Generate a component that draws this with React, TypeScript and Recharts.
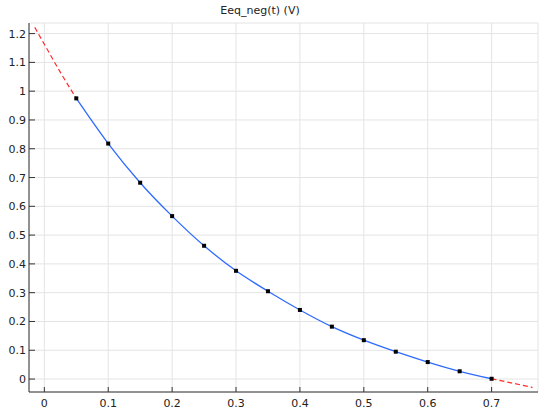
import React from 'react'
import { ComposedChart, Line, XAxis, YAxis, CartesianGrid } from 'recharts'

// fitted points (black squares + blue curve)
const times = [0.05, 0.1, 0.15, 0.2, 0.25, 0.3, 0.35, 0.4, 0.45, 0.5, 0.55, 0.6, 0.65, 0.7]
const values = [0.975, 0.818, 0.682, 0.566, 0.463, 0.376, 0.305, 0.24, 0.182, 0.135, 0.095, 0.059, 0.027, 0.001]

// red dashed extrapolation on both ends
const headTimes = [-0.015, 0, 0.025, 0.05]
const headValues = [1.222, 1.163, 1.066, 0.975]
const tailTimes = [0.7, 0.73, 0.764]
const tailValues = [0.001, -0.013, -0.029]

const xTicks = [0, 0.1, 0.2, 0.3, 0.4, 0.5, 0.6, 0.7]
const yTicks = [0, 0.1, 0.2, 0.3, 0.4, 0.5, 0.6, 0.7, 0.8, 0.9, 1, 1.1, 1.2]

const xDomain = [-0.024, 0.7726]
const yDomain = [-0.045, 1.2368]

const toRows = (ts: number[], vs: number[]) => ts.map((t, i) => ({ t, v: vs[i] }))

const fitData = toRows(times, values)
const headData = toRows(headTimes, headValues)
const tailData = toRows(tailTimes, tailValues)

const fmt = (v: number) => String(Number(v.toFixed(2)))

const FONT = '"DejaVu Sans", sans-serif'
const AXIS = '#333'

const BottomTick = (props: any) => {
  const { x, y, payload } = props
  return (
    <g>
      <line x1={x} x2={x} y1={y} y2={y - 5} stroke={AXIS} />
      <text x={x} y={y + 15} textAnchor="middle" fontSize={11} fontFamily={FONT} fill="#222">
        {fmt(payload.value)}
      </text>
    </g>
  )
}

const TopTick = (props: any) => {
  const { x, y } = props
  return <line x1={x} x2={x} y1={y} y2={y + 5} stroke={AXIS} />
}

const LeftTick = (props: any) => {
  const { x, y, payload } = props
  return (
    <g>
      <line x1={x} x2={x + 6} y1={y} y2={y} stroke={AXIS} />
      <text x={x - 3} y={y + 4} textAnchor="end" fontSize={11} fontFamily={FONT} fill="#222">
        {fmt(payload.value)}
      </text>
    </g>
  )
}

const RightTick = (props: any) => {
  const { x, y } = props
  return <line x1={x} x2={x - 6} y1={y} y2={y} stroke={AXIS} />
}

const SquareDot = (props: any) => {
  const { cx, cy, index } = props
  return <rect key={index} x={cx - 2} y={cy - 2} width={4} height={4} fill="#000" />
}

export default function App() {
  return (
    <div style={{ position: 'absolute', left: 0, top: 0, width: 550, height: 415, background: '#fff' }}>
      <div
        style={{
          position: 'absolute',
          left: 0,
          top: 4,
          width: 520,
          textAlign: 'center',
          fontFamily: FONT,
          fontSize: 11,
          lineHeight: '13px',
          color: '#222',
        }}
      >
        Eeq_neg(t) (V)
      </div>
      <ComposedChart width={550} height={415} margin={{ top: 23, right: 12, bottom: 0, left: 0 }}>
        <CartesianGrid stroke="#e4e4e4" strokeWidth={1} />
        <XAxis
          dataKey="t"
          type="number"
          domain={xDomain}
          ticks={xTicks}
          allowDataOverflow
          height={23}
          tickSize={0}
          tickMargin={0}
          tickLine={false}
          tick={<BottomTick />}
          axisLine={{ stroke: AXIS }}
        />
        <XAxis
          xAxisId="top"
          orientation="top"
          dataKey="t"
          type="number"
          domain={xDomain}
          ticks={xTicks}
          allowDataOverflow
          height={0}
          tickSize={0}
          tickMargin={0}
          tickLine={false}
          tick={<TopTick />}
          axisLine={{ stroke: AXIS }}
        />
        <YAxis
          type="number"
          domain={yDomain}
          ticks={yTicks}
          allowDataOverflow
          width={29}
          tickSize={0}
          tickMargin={0}
          tickLine={false}
          tick={<LeftTick />}
          axisLine={{ stroke: AXIS }}
        />
        <YAxis
          yAxisId="right"
          orientation="right"
          type="number"
          domain={yDomain}
          ticks={yTicks}
          allowDataOverflow
          width={0}
          tickSize={0}
          tickMargin={0}
          tickLine={false}
          tick={<RightTick />}
          axisLine={{ stroke: AXIS }}
        />
        <Line
          data={headData}
          dataKey="v"
          type="monotone"
          stroke="#ff2b2b"
          strokeWidth={1.2}
          strokeDasharray="5 3"
          dot={false}
          isAnimationActive={false}
        />
        <Line
          data={tailData}
          dataKey="v"
          type="monotone"
          stroke="#ff2b2b"
          strokeWidth={1.2}
          strokeDasharray="5 3"
          dot={false}
          isAnimationActive={false}
        />
        <Line
          data={fitData}
          dataKey="v"
          type="monotone"
          stroke="#2e6bff"
          strokeWidth={1.3}
          dot={<SquareDot />}
          isAnimationActive={false}
        />
      </ComposedChart>
    </div>
  )
}
